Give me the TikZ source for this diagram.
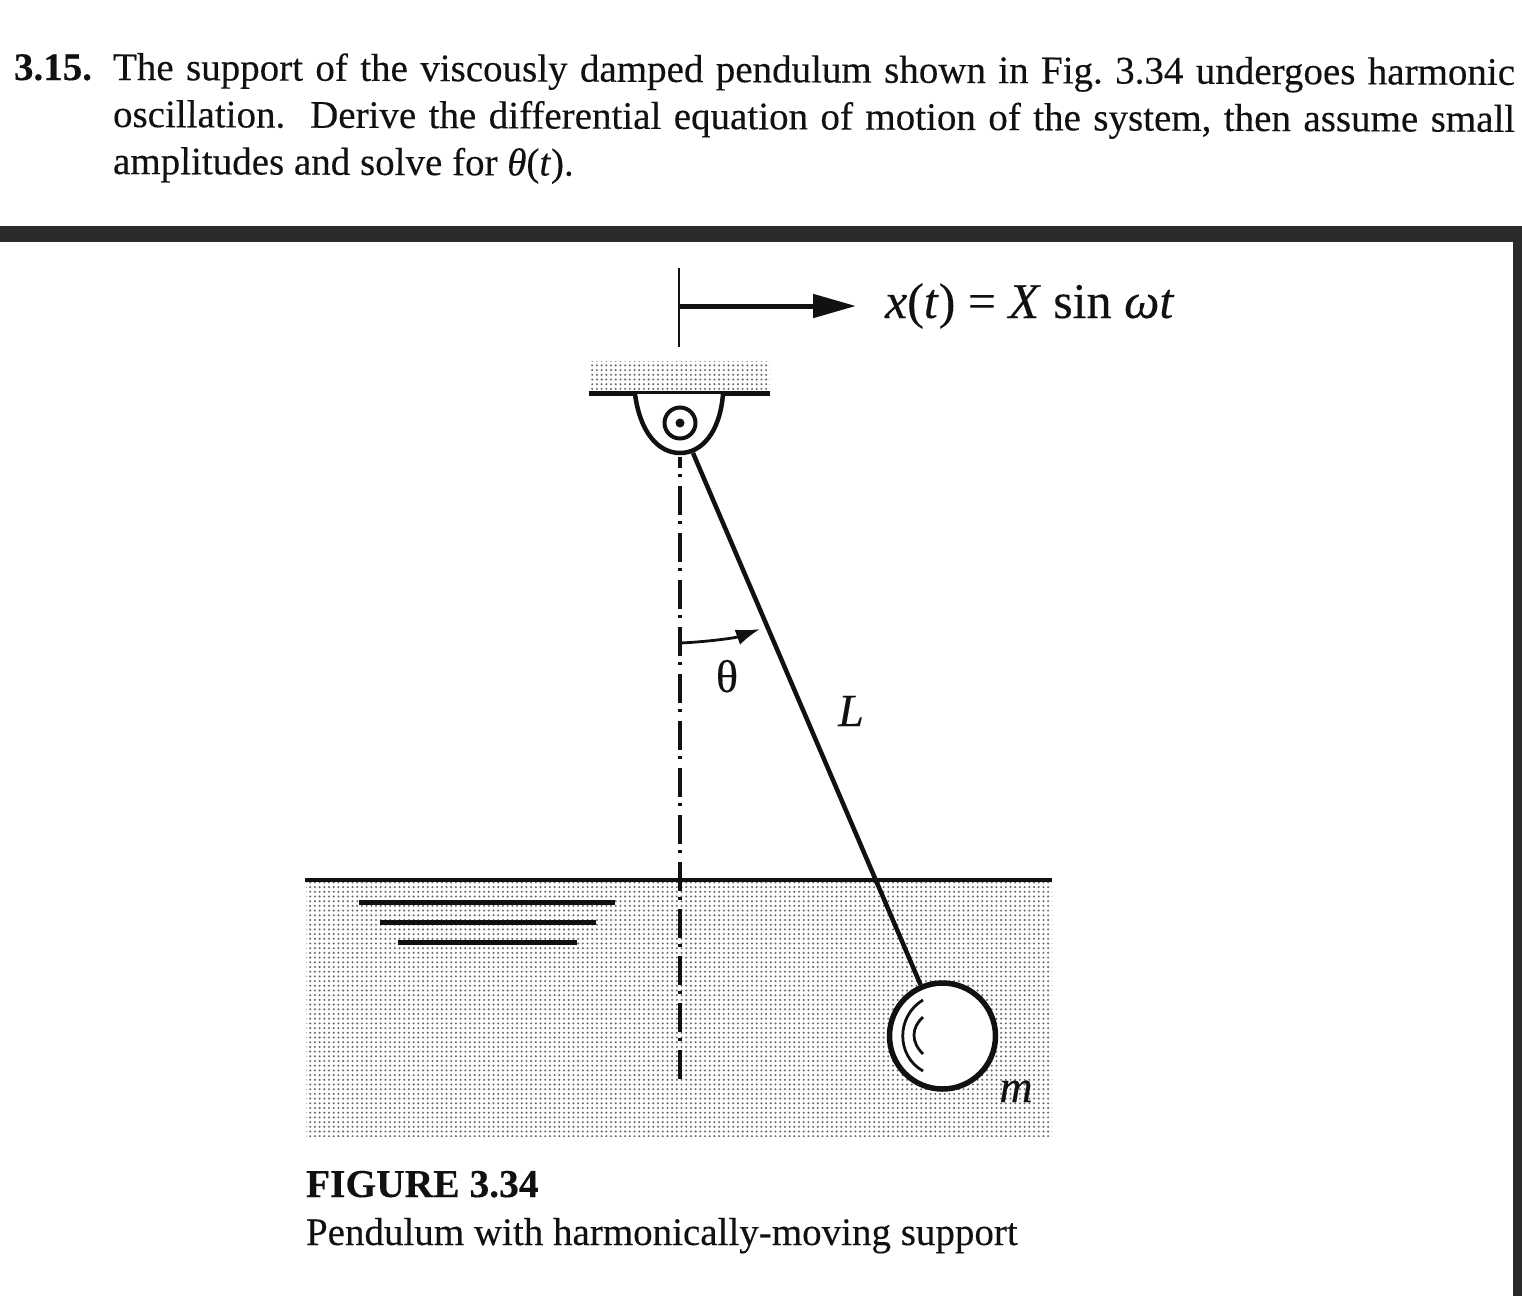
\documentclass[tikz,border=0pt]{standalone}
\usepackage{fontspec}
\setmainfont[FakeBold=0.25]{Liberation Serif}
\usetikzlibrary{patterns.meta,arrows.meta}
\definecolor{ink}{HTML}{111111}
\definecolor{band}{HTML}{2A2A2A}
\definecolor{stip}{HTML}{6A6A6A}
\tikzset{
  body/.style={anchor=base west,inner sep=0pt,outer sep=0pt,text=ink,font=\fontsize{39}{44}\selectfont\frenchspacing},
  para/.style={body,rotate=-0.2},
  label/.style={inner sep=0pt,outer sep=0pt,text=ink,font=\fontsize{50}{54}\selectfont},
  stipple/.style={pattern={Dots[radius=1.15pt,distance=4.7pt]},pattern color=stip,draw=none},
  heavy/.style={line width=5pt,draw=ink},
  medium/.style={line width=4.5pt,draw=ink},
  thin line/.style={line width=2.8pt,draw=ink},
  centerline/.style={line width=4pt,draw=ink,dash pattern=on 29pt off 6pt on 3pt off 9pt,dash phase=18pt},
  bigtip/.style={-{Triangle[length=43pt,width=23pt]}},
  smalltip/.style={-{Latex[length=24pt,width=16pt]}}
}
\begin{document}
\begin{tikzpicture}[x=1pt,y=-1pt]
\useasboundingbox (0,0) rectangle (1522,1296);
\fill[white] (0,0) rectangle (1522,1296);
% problem text
\node[body] (num) at (14,80) {\textbf{3.15.}};
\node[para] (l1) at (113,80) {\makebox[1402pt][s]{The support of the viscously damped pendulum shown in Fig. 3.34 undergoes harmonic}};
\node[para] (l2) at (113,127) {\makebox[1402pt][s]{oscillation.\ \ Derive the differential equation of motion of the system, then assume small}};
\node[para] (l3) at (113,174) {amplitudes and solve for \textit{θ}(\textit{t}).};
% frame
\fill[band] (0,226) rectangle (1522,242);
\fill[band] (1513,226) rectangle (1522,1296);
% stippled regions
\fill[stipple] (306,880) rectangle (1052,1136);
\fill[stipple] (589,361) rectangle (770,393);
% support
\coordinate (ceilL) at (589,393);
\coordinate (ceilR) at (770,393);
\draw[heavy] (ceilL) -- (ceilR);
\coordinate (brL) at (635,394);
\coordinate (brR) at (723,394);
\coordinate (brB) at (680,453);
\draw[medium,fill=white] (brL) .. controls (640,432) and (658,453) .. (brB) .. controls (702,453) and (720,432) .. (brR);
\node[circle,draw=ink,line width=4pt,fill=white,minimum size=31pt,inner sep=0pt] (pivot) at (680,423) {};
\node[circle,fill=ink,minimum size=9pt,inner sep=0pt] (pin) at (pivot.center) {};
% motion arrow
\coordinate (tTop) at (679,268);
\coordinate (tBot) at (679,347);
\coordinate (tMid) at (679,306);
\coordinate (tEnd) at (856,306);
\draw[thin line] (tTop) -- (tBot);
\draw[heavy,bigtip] (tMid) -- (tEnd);
\node[label,anchor=base west] (eq) at (885,318) {\textit{x}(\textit{t}) = \textit{X} sin \textit{ω}\textit{t}};
% liquid
\coordinate (surfL) at (305,880);
\coordinate (surfR) at (1052,880);
\draw[medium] (surfL) -- (surfR);
\coordinate (wa) at (359,902); \coordinate (wb) at (615,902);
\coordinate (wc) at (380,922); \coordinate (wd) at (596,922);
\coordinate (we) at (398,942); \coordinate (wf) at (577,942);
\draw[heavy] (wa) -- (wb);
\draw[heavy] (wc) -- (wd);
\draw[heavy] (we) -- (wf);
% centre line
\coordinate (clTop) at (680,457);
\coordinate (clBot) at (680,1081);
\draw[centerline] (clTop) -- (clBot);
% ball and rod
\node[circle,draw=ink,line width=5.5pt,fill=white,minimum size=106pt,inner sep=0pt] (ball) at (942.5,1036) {};
\coordinate (rodTop) at (693,453);
\draw[medium] (rodTop) -- (ball);
\coordinate (a1) at (923,1000); \coordinate (a2) at (923,1071);
\coordinate (b1) at (923,1017); \coordinate (b2) at (923,1054);
\draw[thin line] (a1) .. controls (896,1016) and (896,1056) .. (a2);
\draw[thin line] (b1) .. controls (911,1028) and (911,1042) .. (b2);
\node[label,font=\fontsize{46}{50}\selectfont\itshape,anchor=base] (mass) at (1016,1102) {m};
% angle
\coordinate (thS) at (680,643);
\coordinate (thE) at (760,629);
\draw[thin line,smalltip] (thS) .. controls (705,642) and (735,638) .. (thE);
\node[label,font=\fontsize{46}{50}\selectfont,anchor=base] (theta) at (727,692) {θ};
\node[label,font=\fontsize{46}{50}\selectfont\itshape,anchor=base] (len) at (851,726) {L};
% caption
\node[body,font=\fontsize{39.5}{44}\selectfont\bfseries] (cap1) at (306,1197) {FIGURE 3.34};
\node[body] (cap2) at (306,1245) {Pendulum with harmonically-moving support};
\end{tikzpicture}
\end{document}
